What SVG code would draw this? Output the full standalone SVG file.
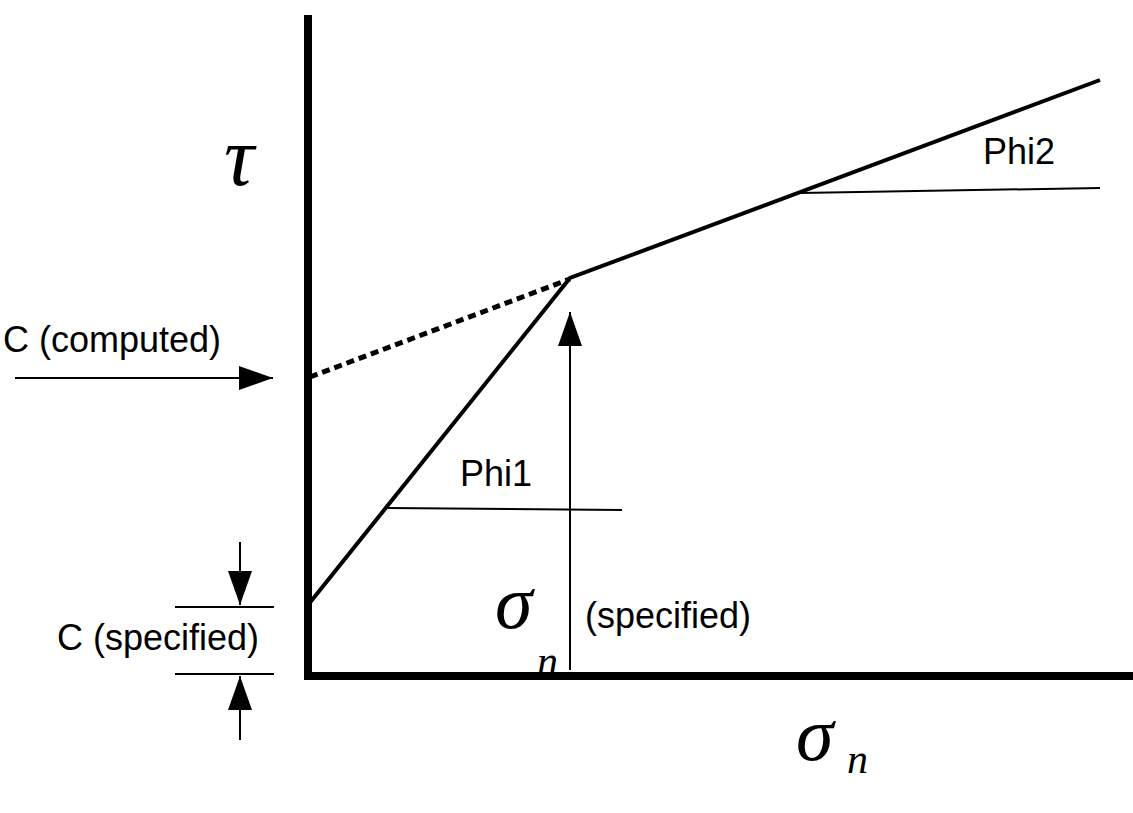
<svg xmlns="http://www.w3.org/2000/svg" width="1133" height="813" viewBox="0 0 1133 813">
<style>
.t{font-family:"Liberation Sans",Arial,sans-serif;font-size:36px;fill:#000}
.g{font-family:"Liberation Serif","Times New Roman",serif;font-style:italic;fill:#000}
.l{stroke:#000;fill:none}
</style>
<defs>
<marker id="ah" markerWidth="12" markerHeight="8" refX="12" refY="4" orient="auto" markerUnits="userSpaceOnUse" viewBox="0 0 12 8"><path d="M0,0L12,4L0,8Z" fill="#000"/></marker>
<marker id="ab" markerWidth="34" markerHeight="24" refX="34" refY="12" orient="auto" markerUnits="userSpaceOnUse"><path d="M0,0L34,12L0,24Z" fill="#000"/></marker>
</defs>
<g id="axes">
<path class="l" d="M308,15V676H1133" stroke-width="8"/>
</g>
<g id="connectors">
<path class="l" d="M308,605L570,278L1100,80" stroke-width="4"/>
<path class="l" d="M310,377L570,279" stroke-width="5" stroke-dasharray="8,5"/>
<path class="l" d="M388,508L622,510" stroke-width="2"/>
<path class="l" d="M800,193L1100,188" stroke-width="2"/>
<path class="l" d="M570,670V312" stroke-width="2" marker-end="url(#ab)"/>
<path class="l" d="M15,378H273" stroke-width="2" marker-end="url(#ab)"/>
<path class="l" d="M175,607H274M175,674H274" stroke-width="2"/>
<path class="l" d="M240,542V605" stroke-width="2" marker-end="url(#ab)"/>
<path class="l" d="M240,740V676" stroke-width="2" marker-end="url(#ab)"/>
</g>
<g id="labels">
<text class="g" x="224" y="185" font-size="84">τ</text>
<text class="t" x="3" y="352">C (computed)</text>
<text class="t" x="460" y="486">Phi1</text>
<text class="t" x="983" y="164">Phi2</text>
<text class="t" x="57" y="650">C (specified)</text>
<text class="g" x="495" y="628" font-size="76">σ</text>
<text class="g" x="537" y="675" font-size="42">n</text>
<text class="t" x="585" y="628">(specified)</text>
<text class="g" x="796" y="760" font-size="76">σ</text>
<text class="g" x="847" y="773" font-size="42">n</text>
</g>
</svg>
